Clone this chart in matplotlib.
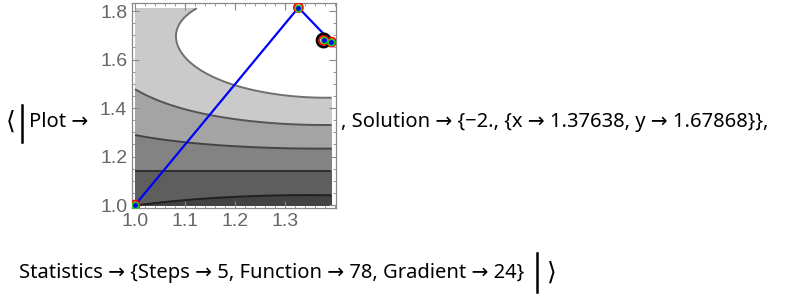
import numpy as np
import matplotlib
matplotlib.use("Agg")
import matplotlib.pyplot as plt
from matplotlib.ticker import MultipleLocator, FixedLocator

# FindMinimum path
path_x = [1.0, 1.326, 1.392, 1.37638]
path_y = [1.0, 1.814, 1.672, 1.67868]
sol_x, sol_y = 1.37638, 1.67868
levels = [-1.5, -1.0, -0.5, 0.0, 0.5]
band_colors = ["#ffffff", "#cacaca", "#a4a4a4", "#838383", "#5e5e5e", "#434343"]
line_colors = ["#707070", "#555555", "#444444", "#303030", "#202020"]
x_ticks = [1.0, 1.1, 1.2, 1.3]
y_ticks = [1.0, 1.2, 1.4, 1.6, 1.8]

x_lo, x_hi = 1.0, 1.392
y_lo, y_hi = 1.0, 1.811

W, H = 787, 299
fig = plt.figure(figsize=(W / 100, H / 100), dpi=100)
ax = fig.add_axes([132 / W, 1 - 208 / H, 204 / W, 205 / H])

# contour field of the minimised function cos(x^2 - 3y) + sin(x^2 + y^2)
gx, gy = np.meshgrid(np.linspace(x_lo, x_hi, 300), np.linspace(y_lo, y_hi, 300))
gz = np.cos(gx**2 - 3 * gy) + np.sin(gx**2 + gy**2)
ax.contourf(gx, gy, gz, levels=[-10] + levels + [10], colors=band_colors)
ax.contour(gx, gy, gz, levels=levels, colors=line_colors, linewidths=1.4)

ax.plot(path_x, path_y, color="#0000ff", lw=1.6, zorder=3)
ax.scatter([sol_x], [sol_y], s=90, facecolors="none", edgecolors="black", linewidths=2, zorder=4)
ax.scatter(path_x, path_y, s=42, facecolors="none", edgecolors="red", linewidths=1.3, zorder=5)
ax.scatter(path_x, path_y, s=22, color="#22cc22", zorder=6)
ax.scatter(path_x, path_y, s=6, color="#0000ff", zorder=7)

ax.set_xlim(0.994, 1.401)
ax.set_ylim(0.988, 1.833)
ax.xaxis.set_major_locator(FixedLocator(x_ticks))
ax.xaxis.set_minor_locator(MultipleLocator(0.02))
ax.yaxis.set_major_locator(FixedLocator(y_ticks))
ax.yaxis.set_minor_locator(MultipleLocator(0.05))
ax.tick_params(which="both", direction="in", top=True, right=True, color="#888888",
               labelcolor="#666666", labelsize=14)
ax.tick_params(which="major", length=5, width=0.8)
ax.tick_params(which="minor", length=2.5, width=0.6)
for lab in ax.get_xticklabels() + ax.get_yticklabels():
    lab.set_family("Liberation Sans")
for s in ax.spines.values():
    s.set_color("#888888")
    s.set_linewidth(0.9)

fam = ["Noto Sans", "DejaVu Sans"]
fs = 14.5
def put(x, y, s, size=fs):
    fig.text(x / W, 1 - y / H, s, fontsize=size, family=fam, va="center")

put(6, 122, "\u27e8", 18)
fig.add_artist(plt.Line2D([22 / W, 22 / W], [1 - 105 / H, 1 - 142 / H], color="black", lw=1.8))
put(29, 122, "Plot \u2192")
put(341, 122, ", Solution \u2192 {\u22122., {x \u2192 1.37638, y \u2192 1.67868}},")
put(19, 273, "Statistics \u2192 {Steps \u2192 5, Function \u2192 78, Gradient \u2192 24}")
fig.add_artist(plt.Line2D([537 / W, 537 / W], [1 - 253 / H, 1 - 292 / H], color="black", lw=1.8))
put(547, 273, "\u27e9", 18)

fig.savefig("out.png", dpi=100)
